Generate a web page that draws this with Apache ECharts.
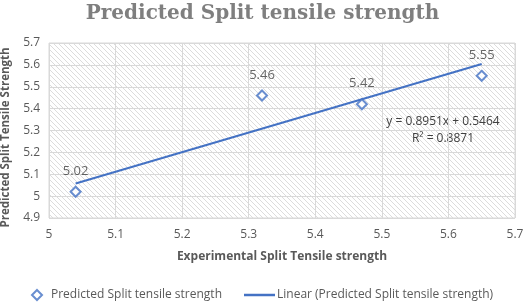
<!DOCTYPE html>
<html><head><meta charset="utf-8">
<script src="https://cdn.jsdelivr.net/npm/echarts@6/dist/echarts.min.js"></script>
<style>html,body{margin:0;padding:0;background:#fff}#c{width:525px;height:305px}</style>
</head><body><div id="c"></div>
<script>
const expX = [5.04, 5.32, 5.47, 5.65];
const predY = [5.02, 5.46, 5.42, 5.55];
const trendX = [5.04, 5.65];
const trendY = [5.058, 5.604];
const xTicks = [5, 5.1, 5.2, 5.3, 5.4, 5.5, 5.6, 5.7];
const yTicks = [4.9, 5, 5.1, 5.2, 5.3, 5.4, 5.5, 5.6, 5.7];
const eqText = 'y = 0.8951x + 0.5464';
const r2Text = 'R² = 0.8871';
const seriesName = 'Predicted Split tensile strength';
const trendName = 'Linear (Predicted Split tensile strength)';

const pc = document.createElement('canvas');
pc.width = 5; pc.height = 5;
const g = pc.getContext('2d');
g.fillStyle = '#ffffff'; g.fillRect(0,0,5,5);
g.strokeStyle = '#dcdcdc'; g.lineWidth = 1;
g.beginPath();
g.moveTo(-1,-1); g.lineTo(6,6);
g.moveTo(-6,-1); g.lineTo(1,6);
g.moveTo(4,-1); g.lineTo(11,6);
g.stroke();

const chart = echarts.init(document.getElementById('c'));
const font = '"Open Sans", "Liberation Sans", sans-serif';
chart.setOption({
  animation: false,
  title: {
    text: 'Predicted Split tensile strength', left: 'center', top: -1,
    textStyle: { fontFamily: '"DejaVu Serif", serif', fontWeight: 'bold', fontSize: 20, color: '#7f7f7f' }
  },
  grid: { left: 49, right: 10, top: 43, bottom: 87, outerBoundsMode: 'none', containLabel: false, show: true, backgroundColor: { image: pc, repeat: 'repeat' }, borderColor: '#d9d9d9', borderWidth: 1 },
  xAxis: {
    type: 'value', min: xTicks[0], max: xTicks[xTicks.length-1], interval: 0.1,
    name: 'Experimental Split Tensile strength', nameLocation: 'middle', nameGap: 33,
    nameTextStyle: { fontFamily: font, fontWeight: 'bold', fontSize: 12, color: '#595959' },
    axisLine: { show: false }, axisTick: { show: false },
    axisLabel: { fontFamily: font, fontSize: 12, color: '#595959', margin: 11, formatter: v => String(+v.toFixed(1)) },
    splitLine: { lineStyle: { color: '#d9d9d9' } }
  },
  yAxis: {
    type: 'value', min: yTicks[0], max: yTicks[yTicks.length-1], interval: 0.1,
    name: 'Predicted Split Tensile Strength', nameLocation: 'middle', nameGap: 37,
    nameTextStyle: { fontFamily: font, fontWeight: 'bold', fontSize: 11.5, color: '#595959', padding: [0, 0, 0, -14] },
    axisLine: { show: false }, axisTick: { show: false },
    axisLabel: { fontFamily: font, fontSize: 12, color: '#595959', margin: 9, formatter: v => String(+v.toFixed(1)) },
    splitLine: { lineStyle: { color: '#d9d9d9' } }
  },
  legend: [
    {
      left: 31, top: 289, padding: 0, itemGap: 10, itemWidth: 10, itemHeight: 10,
      textStyle: { fontFamily: font, fontSize: 12, color: '#595959', padding: [0,0,0,4] },
      data: [{ name: seriesName, icon: 'diamond', itemStyle: { color: '#fff', borderColor: '#4472C4', borderWidth: 2 } }]
    },
    {
      left: 244, top: 289, padding: 0, itemWidth: 31, itemHeight: 2.5,
      textStyle: { fontFamily: font, fontSize: 12, color: '#595959', padding: [0,0,0,-3] },
      data: [{ name: trendName, icon: 'rect', itemStyle: { color: '#4472C4' } }]
    }
  ],
  series: [
    {
      name: trendName, type: 'line', symbol: 'none',
      data: trendX.map((x, i) => [x, trendY[i]]),
      lineStyle: { color: '#4472C4', width: 2 }, itemStyle: { color: '#4472C4' }, z: 2
    },
    {
      name: seriesName, type: 'scatter', symbol: 'diamond', symbolSize: 10,
      data: expX.map((x, i) => [x, predY[i]]),
      itemStyle: { color: '#fff', borderColor: '#4472C4', borderWidth: 2 },
      label: { show: true, position: 'top', distance: 8, fontFamily: font, fontSize: 13, color: '#404040', formatter: p => p.value[1].toFixed(2) },
      z: 3
    }
  ],
  graphic: [
    { type: 'text', x: 443, y: 122, style: { text: eqText, fontFamily: font, fontSize: 12, fill: '#404040', align: 'center', verticalAlign: 'middle' } },
    { type: 'text', x: 443, y: 139, style: { text: r2Text, fontFamily: font, fontSize: 12, fill: '#404040', align: 'center', verticalAlign: 'middle' } }
  ]
});
</script></body></html>
